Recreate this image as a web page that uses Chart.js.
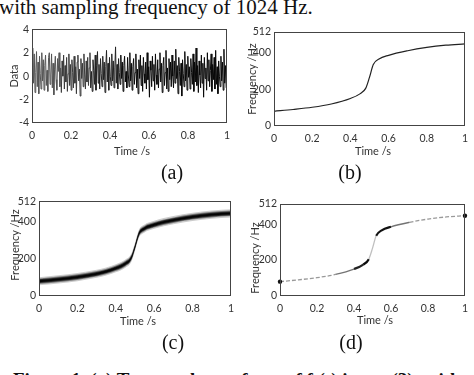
<!DOCTYPE html>
<html>
<head>
<meta charset="utf-8">
<script src="https://cdn.jsdelivr.net/npm/chart.js@4.4.1/dist/chart.umd.min.js"></script>
<style>
  body { margin: 0; width: 474px; height: 375px; overflow: hidden; background: #fff; position: relative; }
  .cv { position: absolute; }
  .txt { position: absolute; white-space: nowrap; }
  .serif { font-family: "Liberation Serif", "DejaVu Serif", serif; color: #111; }
  .lab { font-family: Lato, "Open Sans", sans-serif; font-size: 11px; color: #333; transform: translate(-50%, -50%); }
  .rot { transform: translate(-50%, -50%) rotate(-90deg); }
  .panel { font-size: 20px; transform: translate(-50%, -50%); }
</style>
</head>
<body>
<div class="txt serif" style="left:-1px; top:-5px; font-size:21px;">with sampling frequency of 1024 Hz.</div>

<canvas id="chartA" class="cv"></canvas>
<canvas id="chartB" class="cv"></canvas>
<canvas id="chartC" class="cv"></canvas>
<canvas id="chartD" class="cv"></canvas>

<div class="txt lab rot" style="left:13px; top:76px;">Data</div>
<div class="txt lab rot" style="left:251px; top:79px;">Frequency /Hz</div>
<div class="txt lab rot" style="left:14px; top:245px;">Frequency /Hz</div>
<div class="txt lab rot" style="left:254px; top:258px;">Frequency /Hz</div>

<div class="txt lab" style="left:132px; top:150px;">Time /s</div>
<div class="txt lab" style="left:373px; top:150px;">Time /s</div>
<div class="txt lab" style="left:138px; top:320px;">Time /s</div>
<div class="txt lab" style="left:375px; top:319px;">Time /s</div>

<div class="txt serif panel" style="left:172px; top:172px;">(a)</div>
<div class="txt serif panel" style="left:350px; top:172px;">(b)</div>
<div class="txt serif panel" style="left:173px; top:342px;">(c)</div>
<div class="txt serif panel" style="left:351px; top:342px;">(d)</div>

<div class="txt serif" style="left:13px; top:369px; font-size:19px; font-weight:bold;">Figure 1. (a) Temporal waveform of f₁(t) in eq. (3); with</div>

<script>
// valores
const signalValues = [
  0.8, 2.4, -0.6, 1.9, -1.4, 0.3, 2.1, -0.9, 1.2, -1.5, 1.7, 0.2, -1.1, 2.0, -0.4, 1.4, -1.2, 0.9, 1.8, -0.8,
  0.5, -1.3, 1.6, 2.0, -0.7, 0.1, 1.9, -1.0, 1.1, -1.6, 0.6, 1.7, -0.3, -1.2, 1.5, 0.4, 2.0, -0.9, 0.7, -1.4,
  1.3, 0.0, 1.8, -1.1, 0.9, -0.5, 1.6, -1.3, 0.2, 1.9, -0.8, 1.0, -1.2, 1.4, 0.3, -1.0, 1.7, -0.6, 0.8, -1.5,
  1.2, 1.8, -0.4, 0.6, -1.7, 1.5, -0.2, 1.1, -0.9, 1.9, 0.1, -1.1, 1.3, -0.5, 1.6, -0.8, 0.7, 2.0, -1.0, 0.4,
  -1.3, 1.4, 0.5, -0.7, 1.8, -1.2, 0.9, 2.1, -0.6, 1.0, -1.1, 1.5, 0.2, -0.9, 1.7, -0.3, 1.2, -1.4, 0.8, 2.2,
  -0.5, 1.1, -1.2, 1.6, 0.0, -0.8, 1.9, -0.4, 1.3, -1.0, 0.7, 2.5, -0.6, 1.0, -1.1, 1.5, 0.3, -0.7, 1.8, -0.2,
  1.2, -1.3, 0.9, 1.7, -0.5, 0.4, -1.0, 1.6, 0.1, -0.9, 2.0, -0.4, 1.1, -1.2, 0.8, 1.5, -0.7, 0.3, 1.9, -1.0,
  0.6, -1.5, 1.4, -0.2, 1.8, -0.8, 0.9, -1.3, 1.6, 0.2, -0.6, 1.2, -1.1, 2.0, -0.3, 0.8, -1.8, 1.3, 0.5, -0.9,
  1.7, -0.4, 1.0, -1.2, 1.9, 0.1, -0.7, 1.4, -1.0, 0.6, 2.0, -0.5, 1.1, -1.4, 0.9, 1.6, -0.8, 0.3, 2.2, -1.1,
  0.7, -1.3, 1.5, -0.3, 1.2, -0.9, 1.8, 0.0, -1.0, 1.3, -0.6, 2.3, -0.2, 0.9, -1.5, 1.6, 0.4, -0.8, 1.1, -1.7,
  1.4, 0.2, -0.9, 2.1, -0.4, 1.0, -1.2, 1.7, -0.1, 0.8, -1.1, 1.5, 0.3, -0.7, 1.9, -1.3, 1.2, -0.5, 2.4, -0.8,
  0.9, -1.4, 1.3, 0.1, -1.0, 1.8, -0.6, 1.1, -1.8, 1.6, -0.2, 0.7, -1.2, 2.0, -0.4, 1.4, -0.9, 0.5, 1.9, -1.3,
  1.0, -0.3, 1.6, -1.1, 2.2, -0.7, 0.8, -1.5, 1.3, 0.0, -0.9, 1.7, -0.4, 1.2, -1.2, 2.3, -0.6, 0.9, -1.0, 1.5
];

// frequência instantânea (Hz) em cada instante (s)
const freqTimes = [0, 0.1, 0.2, 0.3, 0.4, 0.45, 0.48, 0.5, 0.52, 0.55, 0.6, 0.7, 0.8, 0.9, 1];
const freqHz    = [80, 90, 102, 120, 150, 175, 205, 265, 335, 365, 385, 410, 428, 440, 447];

const timeTicks = [0, 0.2, 0.4, 0.6, 0.8, 1];
const dataTicks = [-4, -2, 0, 2, 4];
const freqTicks = [0, 200, 400, 512];

// meia largura da faixa do espectrograma (c), em Hz
const bandLayers = [22, 15, 10, 5];

const tickFont = { family: 'Lato, "Open Sans", sans-serif', size: 10.5 };

// desenha a caixa em volta da área do gráfico
const boxPlugin = {
  id: 'box',
  afterDatasetsDraw(chart) {
    const a = chart.chartArea;
    const ctx = chart.ctx;
    ctx.save();
    ctx.strokeStyle = '#444';
    ctx.lineWidth = 1;
    ctx.strokeRect(Math.round(a.left) + 0.5, Math.round(a.top) + 0.5, Math.round(a.right - a.left) - 1, Math.round(a.bottom - a.top) - 1);
    ctx.restore();
  }
};

function place(id, left, top, w, h) {
  const c = document.getElementById(id);
  c.style.left = left + 'px';
  c.style.top = top + 'px';
  c.style.width = w + 'px';
  c.style.height = h + 'px';
  c.width = w;
  c.height = h;
  return c;
}

function makeOptions(p) {
  return {
    responsive: false,
    animation: false,
    events: [],
    layout: { padding: { top: p.padTop, right: p.padRight, left: 0, bottom: 0 } },
    plugins: { legend: { display: false }, tooltip: { enabled: false } },
    scales: {
      x: {
        type: 'linear', min: 0, max: 1,
        afterBuildTicks: axis => { axis.ticks = timeTicks.map(v => ({ value: v })); },
        afterFit: s => { s.height = p.xh; },
        grid: { display: false, drawTicks: false }, border: { display: false },
        ticks: { font: tickFont, color: '#333', padding: 6, maxRotation: 0, callback: v => String(+v.toFixed(1)) }
      },
      y: {
        type: 'linear', min: p.ymin, max: p.ymax,
        afterBuildTicks: axis => { axis.ticks = p.yticks.map(v => ({ value: v })); },
        afterFit: s => { s.width = p.yw; },
        grid: { display: false, drawTicks: false }, border: { display: false },
        ticks: { font: tickFont, color: '#333', padding: 3 }
      }
    }
  };
}

const curvePoints = freqTimes.map((t, i) => ({ x: t, y: freqHz[i] }));

// tom da forma de onda: mais clara à esquerda, escurecendo aos poucos
function shadeA(t) {
  if (t < 0.15) return '#555';
  if (t < 0.3) return '#3a3a3a';
  if (t < 0.45) return '#222';
  return '#0a0a0a';
}

// (a) forma de onda
place('chartA', 0, 20, 236, 125);
new Chart(document.getElementById('chartA'), {
  type: 'line',
  data: {
    datasets: [{
      data: signalValues.map((v, i) => ({ x: i / (signalValues.length - 1), y: v })),
      borderColor: '#111',
      borderWidth: 1,
      pointRadius: 0,
      tension: 0,
      segment: { borderColor: c => shadeA(c.p0.parsed.x) }
    }]
  },
  options: makeOptions({ padTop: 7, padRight: 7, xh: 22, yw: 32, ymin: -4, ymax: 4, yticks: dataTicks }),
  plugins: [boxPlugin]
});

// (b) frequência instantânea
place('chartB', 240, 20, 234, 125);
new Chart(document.getElementById('chartB'), {
  type: 'line',
  data: {
    datasets: [{
      data: curvePoints,
      borderColor: '#222',
      borderWidth: 1.2,
      pointRadius: 0,
      cubicInterpolationMode: 'monotone'
    }]
  },
  options: makeOptions({ padTop: 12, padRight: 5, xh: 19, yw: 34, ymin: 0, ymax: 512, yticks: freqTicks }),
  plugins: [boxPlugin]
});

// (c) faixa borrada do espectrograma
const bandSets = [];
const bandAlpha = [0.2, 0.4, 0.7, 0.95];
bandLayers.forEach((h, k) => {
  bandSets.push({
    data: freqTimes.map((t, i) => ({ x: t, y: freqHz[i] + h })),
    borderWidth: 0, pointRadius: 0, cubicInterpolationMode: 'monotone',
    fill: '+1', backgroundColor: 'rgba(0,0,0,' + bandAlpha[k] + ')'
  });
  bandSets.push({
    data: freqTimes.map((t, i) => ({ x: t, y: freqHz[i] - h })),
    borderWidth: 0, pointRadius: 0, cubicInterpolationMode: 'monotone', fill: false
  });
});
place('chartC', 0, 192, 240, 125);
new Chart(document.getElementById('chartC'), {
  type: 'line',
  data: { datasets: bandSets },
  options: makeOptions({ padTop: 8, padRight: 4, xh: 21, yw: 39, ymin: 0, ymax: 512, yticks: freqTicks }),
  plugins: [boxPlugin]
});

// (d) curva reconstruída, com tons diferentes ao longo do tempo
function shadeD(t) {
  if (t >= 0.45 && t < 0.48) return '#0a0a0a';
  if (t >= 0.4 && t < 0.45) return '#222';
  if (t >= 0.48 && t < 0.52) return 'rgba(0,0,0,0.25)';
  if (t >= 0.52 && t < 0.6) return '#111';
  if (t >= 0.3 && t < 0.7) return 'rgba(0,0,0,0.55)';
  return 'rgba(0,0,0,0.4)';
}
function darkD(t) {
  return (t >= 0.4 && t < 0.48) || (t >= 0.52 && t < 0.6);
}
place('chartD', 240, 192, 234, 125);
new Chart(document.getElementById('chartD'), {
  type: 'line',
  data: {
    datasets: [{
      data: curvePoints,
      pointRadius: 0,
      cubicInterpolationMode: 'monotone',
      borderColor: '#555',
      borderWidth: 1.3,
      segment: {
        borderColor: c => shadeD(c.p0.parsed.x),
        borderWidth: c => darkD(c.p0.parsed.x) ? 2.2 : 1.3,
        borderDash: c => (c.p0.parsed.x < 0.3 || c.p0.parsed.x >= 0.7) ? [4, 2] : []
      }
    }, {
      type: 'scatter',
      data: [curvePoints[0], curvePoints[curvePoints.length - 1]],
      pointRadius: 2.2,
      pointBackgroundColor: '#111',
      pointBorderWidth: 0,
      clip: false
    }]
  },
  options: makeOptions({ padTop: 12, padRight: 6, xh: 21, yw: 40, ymin: 0, ymax: 512, yticks: freqTicks }),
  plugins: [boxPlugin]
});
</script>
</body>
</html>
